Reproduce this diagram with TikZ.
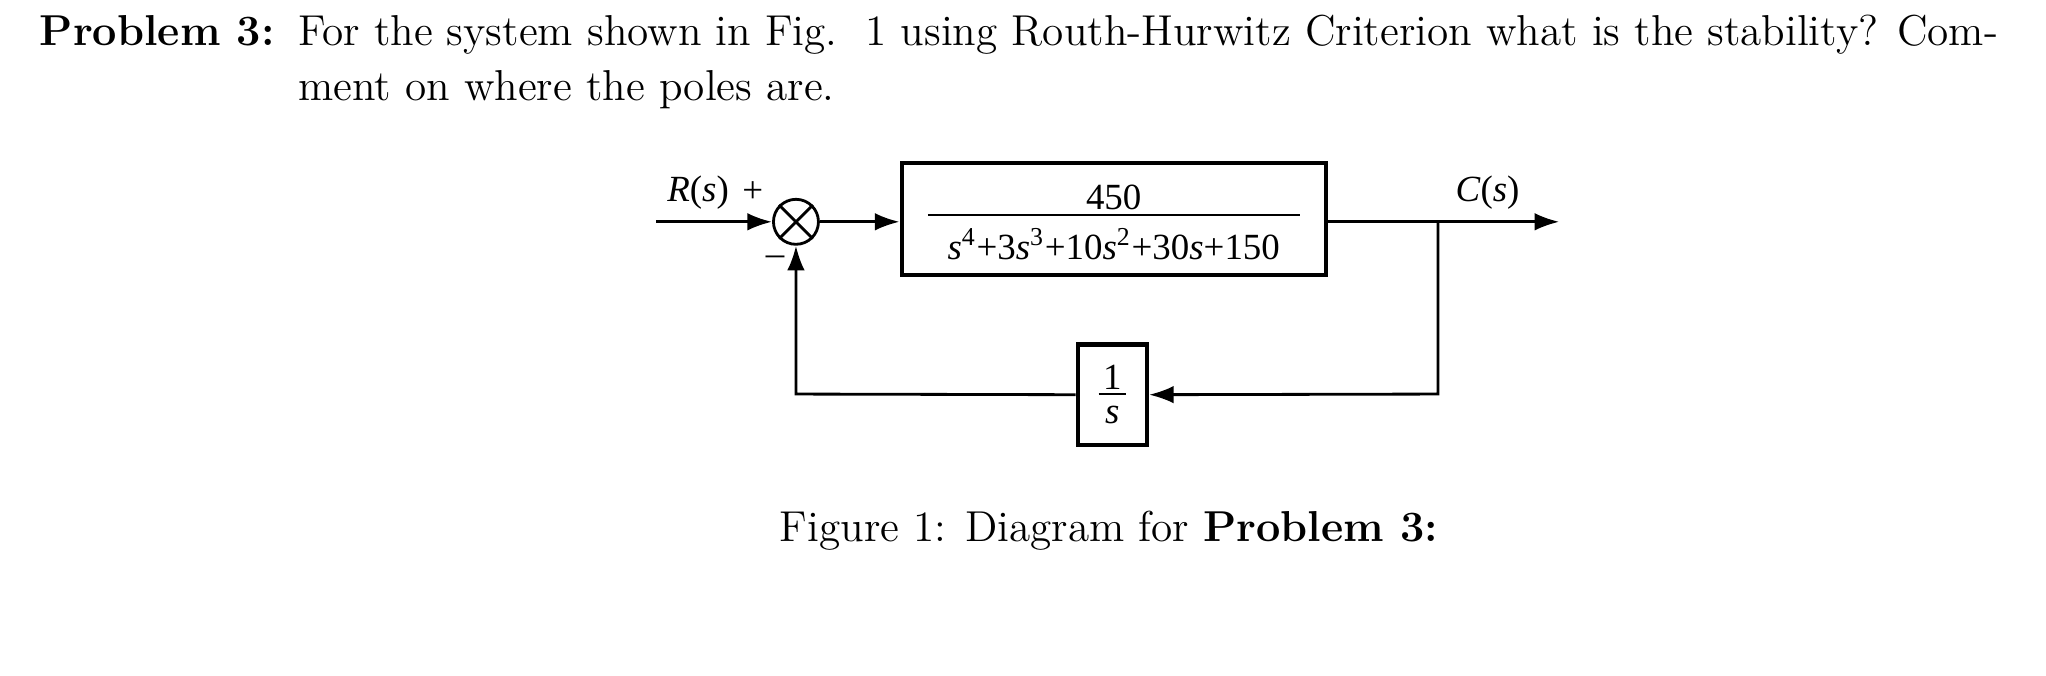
\documentclass[tikz,border=0pt]{standalone}
\usepackage{fontspec}
\newfontfamily\timesfnt{Liberation Serif}
\usetikzlibrary{arrows.meta}
\begin{document}
\begin{tikzpicture}[x=0.01305cm,y=-0.01305cm,
  wire/.style={line width=0.8pt},
  arr/.style={wire,-{Latex[length=7pt,width=5pt]}},
  blk/.style={draw,line width=1.2pt,inner sep=0pt},
  lbl/.style={font=\fontsize{10.5}{12}\timesfnt\selectfont},
  txt/.style={font=\fontsize{12.3}{14}\selectfont,anchor=base west,inner sep=0pt}]
\useasboundingbox (0,0) rectangle (1568,518);
\node[txt] (t1) at (30,35) {\textbf{Problem 3:}};
\node[txt] (t2) at (228,35) {For the system shown in Fig.\ \ 1 using Routh-Hurwitz Criterion what is the stability? Com-};
\node[txt] (t3) at (228,77) {ment on where the poles are.};
\node[draw,circle,line width=0.8pt,inner sep=0pt,minimum size=0.45cm] (sum) at (610,170) {};
\draw[line width=0.8pt] (sum.north west)--(sum.south east) (sum.north east)--(sum.south west);
\coordinate (in) at (503,170);
\node[blk,minimum width=325*0.01305cm,minimum height=86*0.01305cm] (G) at (853.5,168) {};
\node[lbl] (num) at (853.5,151) {450};
\draw[line width=0.6pt] (711,165)--(996,165);
\node[lbl] (den) at (853.5,187) {\textit{s}\textsuperscript{4}+3\textit{s}\textsuperscript{3}+10\textit{s}\textsuperscript{2}+30\textit{s}+150};
\node[blk,minimum width=53*0.01305cm,minimum height=77*0.01305cm] (H) at (852.5,302.5) {};
\node[lbl] (h1) at (852.5,289) {1};
\draw[line width=0.6pt] (842,302)--(863,302);
\node[lbl] (h2) at (852.5,318) {\textit{s}};
\coordinate (out) at (1195,170);
\coordinate (br) at (1102,170);
\coordinate (c1) at (1102,302);
\coordinate (c2) at (610,302);
\draw[arr] (in)--(sum);
\draw[arr] (sum)--(G.west|-sum);
\draw[arr] (G.east|-sum)--(out);
\draw[arr] (br)--(c1)--(H.east);
\draw[arr] (H.west)--(c2)--(sum);
\node[lbl] (R) at (535,148) {\textit{R}(\textit{s})};
\node[lbl] (p) at (577,147) {+};
\node[lbl] (m) at (594,200) {\textendash};
\node[lbl] (C) at (1140,148) {\textit{C}(\textit{s})};
\node[txt,anchor=base] (cap) at (850,415) {Figure 1: Diagram for \textbf{Problem 3:}};
\end{tikzpicture}
\end{document}
